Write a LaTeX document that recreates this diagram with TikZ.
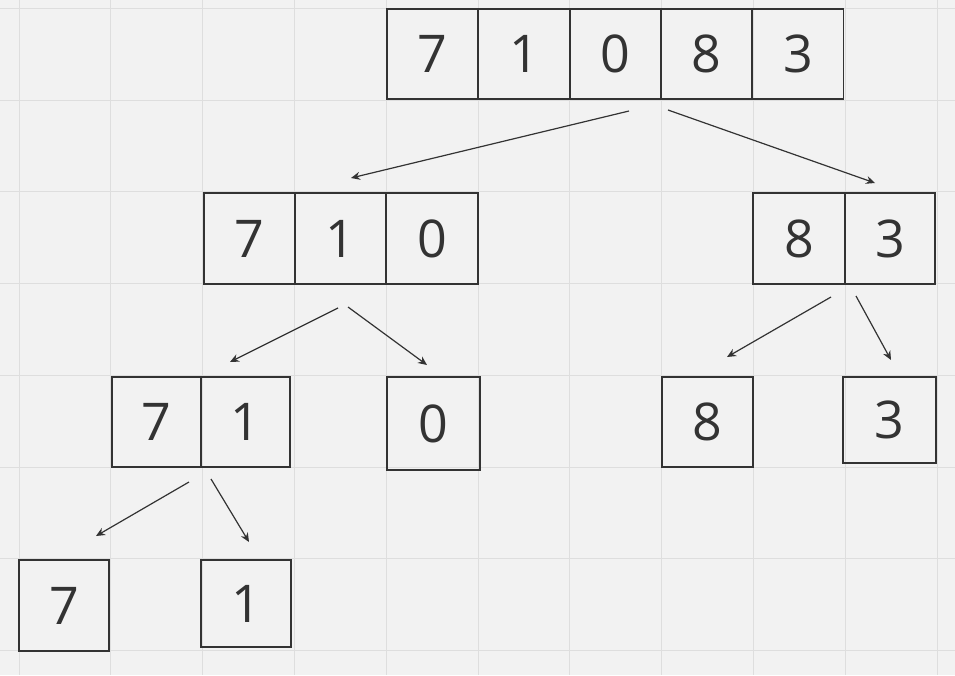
\documentclass[tikz,border=0pt]{standalone}
\usepackage{fontspec}
\setmainfont{Open Sans}
\usetikzlibrary{arrows.meta}
\definecolor{bg}{HTML}{F2F2F2}
\definecolor{gridc}{HTML}{DEDEDE}
\definecolor{ink}{HTML}{333333}
\begin{document}
\begin{tikzpicture}[x=1pt,y=-1pt,
  cell/.style={draw=ink,line width=1.3pt,inner sep=0pt,font=\fontsize{52}{52}\selectfont,text=ink},
  arr/.style={draw=ink,line width=1.2pt,-{Stealth[length=9pt,width=8pt]}}]
\useasboundingbox (0,0) rectangle (955,675);
\fill[bg] (0,0) rectangle (955,675);
\foreach \x in {19,110.8,202.6,294.4,386.2,478,569.8,661.6,753.4,845.2,937}
  \draw[gridc,line width=0.8pt] (\x,0) -- (\x,675);
\foreach \y in {8,100,191.5,283,375,467,558.5,650}
  \draw[gridc,line width=0.8pt] (0,\y) -- (955,\y);
% row 1
\node[cell,minimum width=91pt,minimum height=90pt] (a1) at (432.5,54) {7};
\node[cell,minimum width=91pt,minimum height=90pt] (a2) at (524,54) {1};
\node[cell,minimum width=91pt,minimum height=90pt] (a3) at (615.5,54) {0};
\node[cell,minimum width=91pt,minimum height=90pt] (a4) at (706.5,54) {8};
\node[cell,minimum width=91pt,minimum height=90pt] (a5) at (798,54) {3};
% row 2
\node[cell,minimum width=91pt,minimum height=91pt] (b1) at (249.5,238.5) {7};
\node[cell,minimum width=91pt,minimum height=91pt] (b2) at (340.5,238.5) {1};
\node[cell,minimum width=92pt,minimum height=91pt] (b3) at (432,238.5) {0};
\node[cell,minimum width=92pt,minimum height=91pt] (c1) at (799,238.5) {8};
\node[cell,minimum width=90pt,minimum height=91pt] (c2) at (890,238.5) {3};
% row 3
\node[cell,minimum width=89pt,minimum height=90pt] (d1) at (156.5,422) {7};
\node[cell,minimum width=89pt,minimum height=90pt] (d2) at (245.5,422) {1};
\node[cell,minimum width=93pt,minimum height=93pt] (e1) at (433.5,423.5) {0};
\node[cell,minimum width=91pt,minimum height=90pt] (f1) at (707.5,422) {8};
\node[cell,minimum width=93pt,minimum height=86pt] (g1) at (889.5,420) {3};
% row 4
\node[cell,minimum width=90pt,minimum height=91pt] (h1) at (64,605.5) {7};
\node[cell,minimum width=90pt,minimum height=87pt] (h2) at (246,603.5) {1};
% arrows
\coordinate (s1) at (629,111); \coordinate (t1) at (351,178);
\coordinate (s2) at (668,110); \coordinate (t2) at (875,183);
\coordinate (s3) at (338,308); \coordinate (t3) at (230,362);
\coordinate (s4) at (348,307); \coordinate (t4) at (427,365);
\coordinate (s5) at (831,297); \coordinate (t5) at (727,357);
\coordinate (s6) at (856,296); \coordinate (t6) at (891,360);
\coordinate (s7) at (189,482); \coordinate (t7) at (96,536);
\coordinate (s8) at (211,479); \coordinate (t8) at (249,542);
\foreach \i in {1,...,8} \draw[arr] (s\i) -- (t\i);
\end{tikzpicture}
\end{document}
